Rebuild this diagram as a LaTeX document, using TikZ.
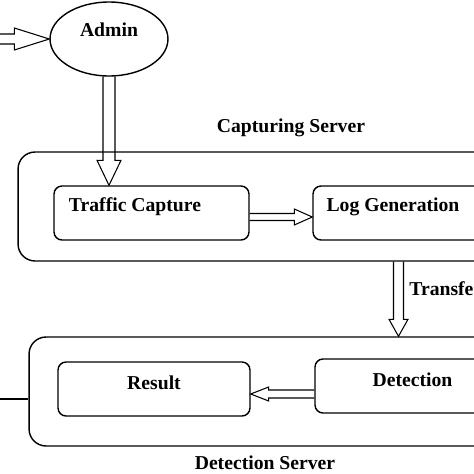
\documentclass[tikz,border=0pt]{standalone}
\usepackage{fontspec}
\setmainfont{Liberation Serif}
\usetikzlibrary{calc, positioning, shapes.geometric}

\begin{document}
\begin{tikzpicture}[x=0.02cm, y=-0.02cm,
  txt/.style={font=\fontsize{11.2}{13}\selectfont\bfseries},
  server/.style={draw, line width=0.8pt, rounded corners=0.34cm, minimum width=10.04cm, minimum height=2.18cm},
  task/.style={draw, line width=0.8pt, rounded corners=0.16cm, minimum height=1.08cm},
  hollow/.style n args={3}{line width=0.6pt, line join=miter, to path={
    ($(\tikztostart)!#1!90:(\tikztotarget)$)
    -- ($($(\tikztotarget)!#3!(\tikztostart)$)!#1!90:(\tikztotarget)$)
    -- ($($(\tikztotarget)!#3!(\tikztostart)$)!#2!90:(\tikztotarget)$)
    -- (\tikztotarget)
    -- ($($(\tikztotarget)!#3!(\tikztostart)$)!#2!-90:(\tikztotarget)$)
    -- ($($(\tikztotarget)!#3!(\tikztostart)$)!#1!-90:(\tikztotarget)$)
    -- ($(\tikztostart)!#1!-90:(\tikztotarget)$)}},
]
  \useasboundingbox (0,0) rectangle (474,474);
  \clip (0,0) rectangle (474,474);

  % admin
  \node[draw, ellipse, line width=0.8pt, minimum width=2.36cm, minimum height=1.48cm,
        label={[txt, yshift=0.18cm]center:Admin}] (admin) at (109,39) {};

  % capturing server
  \node[server] (csrv) at (269,206.5) {};
  \node[txt] (csrvlbl) at (291,128) {Capturing Server};
  \node[task, minimum width=3.9cm, label={[txt, xshift=-0.33cm, yshift=0.12cm]center:Traffic Capture}] (tc) at (151.5,213) {};
  \node[task, minimum width=3.54cm, label={[txt, xshift=-0.17cm, yshift=0.12cm]center:Log Generation}] (lg) at (401.5,213) {};

  % detection server
  \node[server, minimum width=10.02cm] (dsrv) at (279.5,391.5) {};
  \node[txt] (dsrvlbl) at (265,463) {Detection Server};
  \node[task, minimum width=3.84cm, label={[txt, yshift=0.12cm]center:Result}] (res) at (154,389) {};
  \node[task, minimum width=3.9cm, label={[txt, yshift=0.12cm]center:Detection}] (det) at (412.5,386) {};

  % arrows
  \coordinate (entry) at (0,39);
  \draw[hollow={0.1cm}{0.22cm}{0.7cm}] (entry) to (admin.west);
  \draw[hollow={0.12cm}{0.24cm}{0.5cm}] (admin.south) to (admin.south |- tc.north);
  \draw[hollow={0.07cm}{0.16cm}{0.36cm}] ([yshift=-0.08cm]tc.east) to ([yshift=-0.08cm]lg.west);
  \draw[hollow={0.1cm}{0.19cm}{0.34cm}] ([xshift=-0.06cm]lg.south |- csrv.south) to ([xshift=-0.06cm]lg.south |- dsrv.north);
  \node[txt, anchor=west, inner xsep=0pt] (xfer) at (409,289) {Transfe};
  \coordinate (d2r) at ([yshift=-0.16cm]det.west);
  \draw[hollow={0.08cm}{0.14cm}{0.36cm}] (d2r) to (d2r -| res.east);
  \coordinate (exit) at (0,399);
  \draw[line width=0.8pt] (exit) -- (exit -| dsrv.west);
\end{tikzpicture}
\end{document}
